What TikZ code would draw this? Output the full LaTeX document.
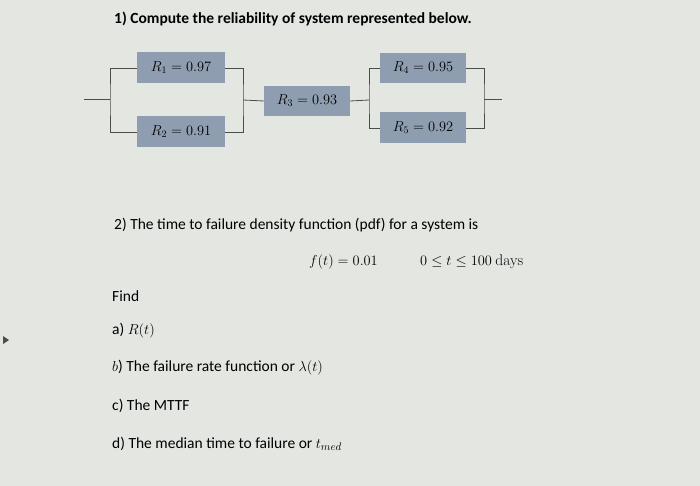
\documentclass[tikz,border=0pt]{standalone}
\usepackage{fontspec}
\setmainfont{Carlito}
\newfontfamily\serifnum{Latin Modern Roman}
\usepackage{amsmath}
\begin{document}
\begin{tikzpicture}[x=1pt,y=-1pt,
  rbox/.style={draw=none,fill=boxc,minimum width=88pt,minimum height=31pt,inner sep=0pt,font=\fontsize{14.5}{16}\selectfont},
  wire/.style={draw=black!70,line width=0.8pt},
  txt/.style={anchor=west,inner sep=0pt,font=\fontsize{15.5}{18}\selectfont}]
\definecolor{boxc}{HTML}{8E9DB0}
\definecolor{bgc}{HTML}{E4E6E2}
\fill[bgc] (0,0) rectangle (700,486);
\useasboundingbox (0,0) rectangle (700,486);
\node[txt] (t1) at (114,19) {\textbf{1) Compute the reliability of system represented below.}};
\node[rbox] (r1) at (181,68) {$R_1=0.97$};
\node[rbox] (r2) at (181,132) {$R_2=0.91$};
\node[rbox,minimum width=86pt,minimum height=30pt] (r3) at (307,101) {$R_3=0.93$};
\node[rbox,minimum width=86pt,minimum height=30pt] (r4) at (423,68) {$R_4=0.95$};
\node[rbox,minimum width=86pt,minimum height=31pt] (r5) at (423,128) {$R_5=0.92$};
\coordinate (in) at (84,99);
\coordinate (jl) at (110,99);
\coordinate (jm) at (243,100);
\coordinate (jr) at (369,100);
\coordinate (jo) at (484,99);
\coordinate (out) at (502,99);
\draw[wire] (in) -- (jl);
\draw[wire] (r1.west) -| (jl) |- (r2.west);
\draw[wire] (r1.east) -| (jm) |- (r2.east);
\draw[wire] (jm) -- (r3.west);
\draw[wire] (r3.east) -- (jr);
\draw[wire] (r4.west) -| (jr) |- (r5.west);
\draw[wire] (r4.east) -| (jo) |- (r5.east);
\draw[wire] (jo) -- (out);
\node[txt] (t2) at (114,225) {2) The time to failure density function (pdf) for a system is};
\node[txt] (f) at (309,262) {$f(t)=0.01$};
\node[txt] (rng) at (420,262) {$0\le t\le 100$ {\serifnum days}};
\node[txt] (find) at (112,296) {Find};
\node[txt] (a) at (112,331) {a) $R(t)$};
\node[txt] (b) at (112,368) {$b$) The failure rate function or $\lambda(t)$};
\node[txt] (c) at (112,406) {c) The MTTF};
\node[txt] (d) at (112,444) {d) The median time to failure or $t_{med}$};
\fill[black!70] (3,336) -- (9,340) -- (3,344) -- cycle;
\end{tikzpicture}
\end{document}
